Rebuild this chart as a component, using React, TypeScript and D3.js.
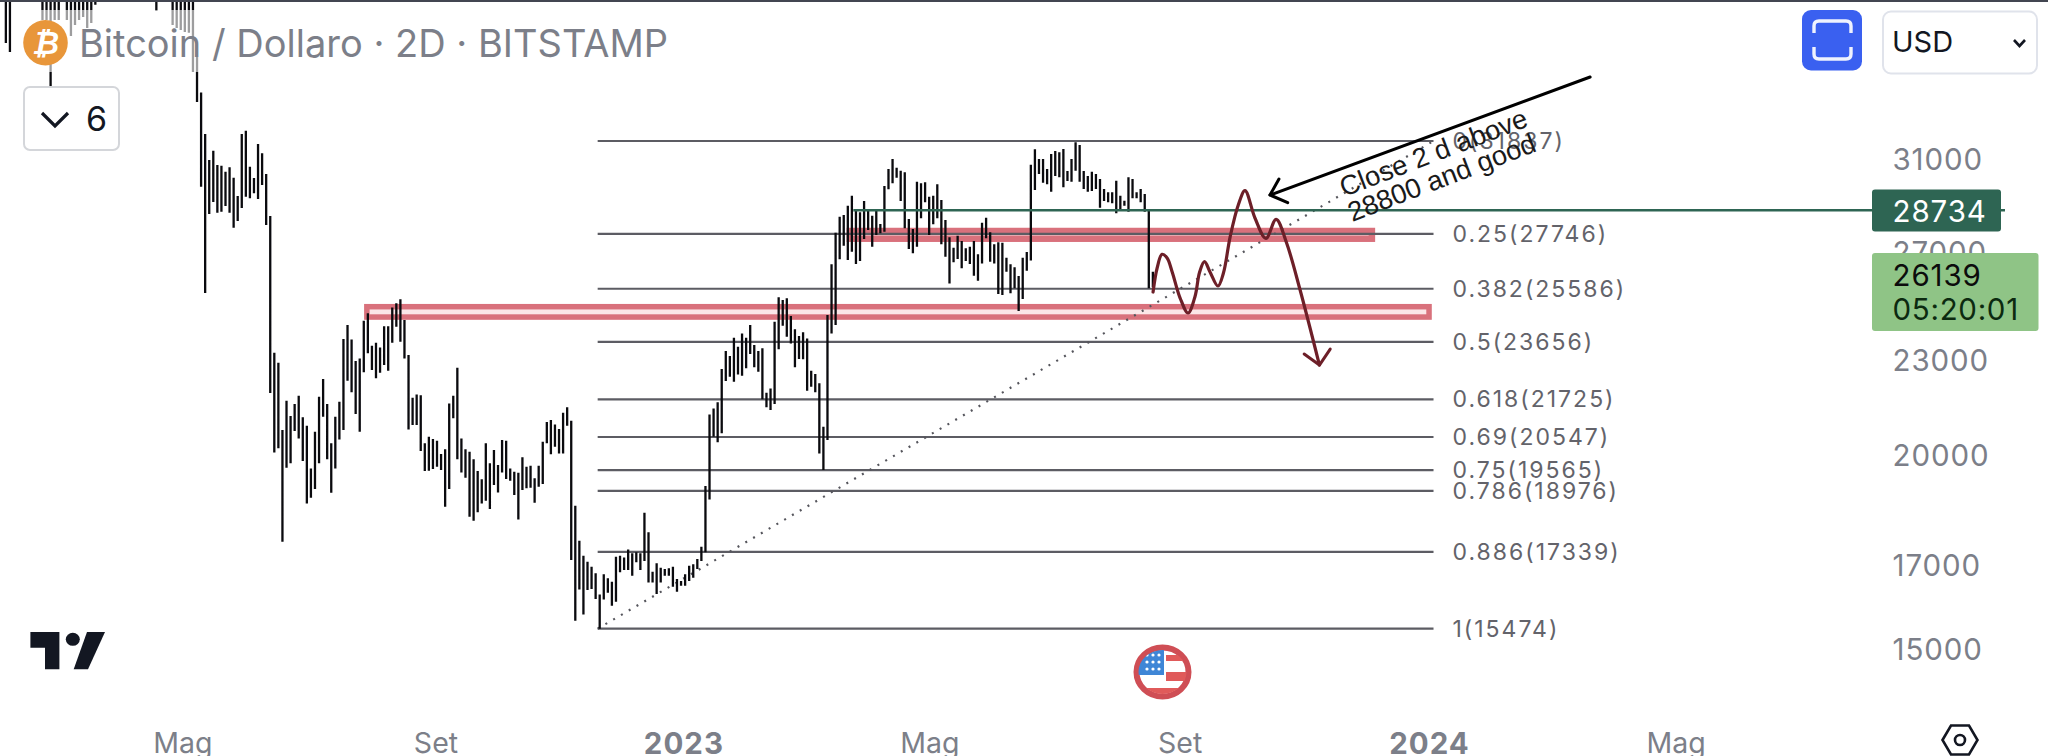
import React from "react";
import * as d3 from "d3";

const W = 2048, H = 756;
const DAY = 86400000;
const baseDate = Date.UTC(2022, 10, 21);
const firstBarOffset = -146;

const barHigh = [
41000,41000,41000,41000,41000,41000,41000,41000,41000,41000,
41000,41000,41000,41000,41000,41000,41000,41000,41000,41000,
41000,41000,41000,41000,41000,41000,41000,41000,41000,41000,
41000,41000,41000,41000,41000,41000,41000,41000,41000,41000,
41000,41000,41000,41000,41000,41000,
41000,36050,34200,32170,30950,31380,30725,30695,30420,30620,
30155,29350,32170,32320,30650,30140,31700,31260,30320,28490,
23275,22935,20760,21680,21195,21575,21840,21155,20895,19615,
20710,21805,22385,21575,20355,21175,21650,23750,24250,23740,
22990,23080,24405,24675,23520,23620,23460,24210,24210,24890,
25040,25190,24430,23195,21775,21885,21855,20355,20555,20485,
20435,20035,20175,21595,21840,22765,20505,20175,20105,19880,
19540,19300,20355,19765,20155,19715,20455,20435,19615,19520,
19490,19940,19665,19695,19330,19695,20405,21010,21070,20935,
20790,21300,21470,21050,18560,17625,17235,17085,16960,16795,
16280,16770,16670,16585,17210,17235,17195,17400,17300,17325,
17300,18370,17845,16835,17045,16935,16900,16920,16960,16655,
16605,16770,16985,17025,17155,17470,19110,21245,21435,21630,
22720,23335,23160,23800,23480,23950,23800,24250,23545,23335,
23430,21940,22080,24370,25265,25165,25225,24575,24095,23860,
23990,23775,22665,22555,22245,20860,24610,26530,27795,28460,
28535,28930,29365,28705,28650,29135,28775,28505,28745,28160,
29785,30545,31000,30600,30470,30395,28365,27950,29975,29905,
29950,29320,29365,29860,29175,28325,27610,27185,27675,27460,
27165,27230,27460,26925,28215,28420,27815,27325,27405,27390,
26790,26530,26410,26075,26790,27015,30735,31450,31000,31000,
30545,31230,31370,31310,31465,30455,31000,31775,31650,30455,
30230,30425,30320,30095,29655,29510,29510,30020,29365,29145,
30170,30095,29510,29655,29435,28705,26240,
];

const barLow = [
36810,36320,39500,39500,39500,39500,39500,39500,39500,38080,
38080,34440,38080,38080,39500,38080,37190,37800,38080,38250,
37630,37910,38940,39500,39500,39500,39500,39500,39500,39500,
39500,39500,39500,39500,39500,39500,39500,38590,39500,39500,
39500,37800,37630,37520,37410,37360,
35260,33730,29755,25425,28580,29090,28635,28675,28920,28635,
28005,28285,28835,29320,29250,29465,29220,29830,28115,21930,
20085,20205,17600,19635,19765,20730,20505,19830,18625,18780,
19025,19765,21175,19880,18920,19615,20475,20760,22330,21950,
21255,20710,22610,23255,22685,22410,22595,22855,22665,23620,
24190,23655,23080,20780,20915,20915,20125,19540,19550,19595,
19665,19570,18535,19025,21125,19880,19500,19345,18260,18155,
18380,18625,18700,18470,19140,18930,19500,19310,19260,18855,
18190,18995,19045,19060,18645,19090,19165,20355,20030,20255,
20055,20055,20895,17130,15655,16400,15805,16385,16410,16170,
15474,16160,16320,16010,16105,16820,16875,16875,16735,17070,
16875,17105,16570,16570,16290,16570,16735,16735,16465,16345,
16490,16490,16605,16685,16900,17105,17325,18735,20555,20385,
20660,22320,22465,22295,22540,22495,22745,23230,22780,22630,
21725,21470,21385,21575,23395,24225,23830,23600,22780,23060,
23050,22005,22135,21950,20055,19570,20455,23950,24250,26725,
27270,26695,27030,26540,26660,27540,27910,27230,27705,27775,
27840,29640,29905,30155,29135,27980,27135,26965,27230,28395,
29075,27705,28145,28395,27325,26830,25790,26605,26735,26370,
26660,26540,26085,25890,26565,27570,26630,26565,25385,25350,
26240,25415,25605,24755,25200,26280,26675,29610,30320,29935,
29860,29535,30230,30170,29730,30010,29975,30470,29975,29655,
29535,29565,29655,28845,29135,29075,29035,28605,28775,28930,
28675,29250,29250,29075,28675,25605,25650,
];

const fibRatios = ["0", "0.25", "0.382", "0.5", "0.618", "0.69", "0.75", "0.786", "0.886", "1"];
const fibPrices = [31837, 27746, 25586, 23656, 21725, 20547, 19565, 18976, 17339, 15474];
const fibStartDay = -1;
const fibEndDay = 410;

const priceTicks = [31000, 27000, 23000, 20000, 17000, 15000];
const timeLabels = ["Mag", "Set", "2023", "Mag", "Set", "2024", "Mag"];
const timeLabelDays = [-205, -80.5, 41.4, 162.4, 285.4, 408, 529.3];
const timeLabelBold = [false, false, true, false, false, true, false];

const lastPrice = 28734;
const lastPriceStartDay = 124.7;
const lastPriceEndDay = 691;

const zoneLowDays = [-114.5, 407.8];
const zoneLowPrices = [24916, 24537];
const zoneHighDays = [123, 379.7];
const zoneHighPrices = [27868, 27552];

const forecastDays = [272.1, 274.1, 276.5, 279, 281.5, 285.4, 289.3, 292.7, 295, 297.4, 300.1, 304, 306.7, 310, 314, 317.3, 322.2, 327.6, 332.6, 337.8, 344.4, 353.9];
const forecastPrices = [25463, 26383, 26924, 26776, 26230, 25237, 24684, 25286, 26230, 26630, 26230, 25690, 26188, 27630, 28960, 29580, 28410, 27565, 28355, 27365, 25538, 22855];
const forecastHeadDays = [346.4, 353.9, 359.2];
const forecastHeadPrices = [23232, 22855, 23403];

const noteArrowDays = [487, 329.6];
const noteArrowPrices = [34999, 29393];
const noteHeadDays = [334, 329.6, 338.3];
const noteHeadPrices = [30096, 29393, 29060];

const noteLines = ["Close 2 d above", "28800 and good"];
const noteDays = [366, 370];
const notePrices = [29305, 28240];

const FONT = "Inter, 'Liberation Sans', sans-serif";
const GREY = "#7c7f89";

const x = d3.scaleUtc().domain([new Date(baseDate), new Date(baseDate + 270 * DAY)]).range([599.7, 1148.8]);
const y = d3.scaleLog().domain([15474, 31837]).range([628.7, 141]);
const xd = (d: number) => x(new Date(baseDate + d * DAY));

const pathOf = (days: number[], prices: number[], curve: d3.CurveFactory = d3.curveLinear) =>
  d3.line<number>().x((_, i) => xd(days[i])).y((_, i) => y(prices[i])).curve(curve)(days) as string;

const rectFrom = (days: number[], prices: number[]) => ({
  x: xd(days[0]), y: y(prices[0]), width: xd(days[1]) - xd(days[0]), height: y(prices[1]) - y(prices[0]),
});

export default function App() {
  const zLow = rectFrom(zoneLowDays, zoneLowPrices);
  const zHigh = rectFrom(zoneHighDays, zoneHighPrices);
  const barPath = d3.path();
  barHigh.forEach((h, i) => {
    const bx = xd((i + firstBarOffset) * 2);
    barPath.moveTo(bx, y(h));
    barPath.lineTo(bx, y(barLow[i]));
  });
  return (
    <svg width={W} height={H} viewBox={`0 0 ${W} ${H}`} style={{ position: "fixed", left: 0, top: 0, background: "#fff" }} fontFamily={FONT}>
      <style>{"body{margin:0}"}</style>
      <rect width={W} height={H} fill="#fff" />

      {/* red zones */}
      <rect {...zLow} fill="#fbe6e8" stroke="#d9717c" strokeWidth={5.5} />
      <rect {...zHigh} fill="#fbe6e8" stroke="#d9717c" strokeWidth={6.5} />

      {/* fib lines */}
      {fibPrices.map((p, i) => (
        <line key={i} x1={xd(fibStartDay)} x2={xd(fibEndDay)} y1={y(p)} y2={y(p)} stroke="#5c5c63" strokeWidth={2.2} />
      ))}
      <path d={pathOf([fibStartDay, fibEndDay], [fibPrices[9], fibPrices[0]])} fill="none" stroke="#55555c" strokeWidth={2.2} strokeDasharray="2 7" />

      {/* bars */}
      <path d={barPath.toString()} fill="none" stroke="#0a0a0e" strokeWidth={2.3} />

      {/* last price line */}
      <line x1={xd(lastPriceStartDay)} x2={xd(lastPriceEndDay)} y1={y(lastPrice)} y2={y(lastPrice)} stroke="#2e6553" strokeWidth={2.4} />

      {/* fib labels */}
      {fibPrices.map((p, i) => (
        <text key={i} x={1452.5} y={y(p)} dy="0.35em" fontSize={23} letterSpacing={2} fill="#63636a">
          {`${fibRatios[i]}(${p})`}
        </text>
      ))}

      {/* black note */}
      <path d={pathOf(noteArrowDays, noteArrowPrices)} fill="none" stroke="#000" strokeWidth={3} strokeLinecap="round" />
      <path d={pathOf(noteHeadDays, noteHeadPrices)} fill="none" stroke="#000" strokeWidth={3} strokeLinecap="round" strokeLinejoin="round" />
      {noteLines.map((t, i) => (
        <text key={i} transform={`translate(${xd(noteDays[i])},${y(notePrices[i])}) rotate(-21)`} fontSize={27.5} fill="#1a1a1a" fontFamily="'Liberation Sans', sans-serif">
          {t}
        </text>
      ))}

      {/* forecast */}
      <path d={pathOf(forecastDays, forecastPrices, d3.curveCatmullRom)} fill="none" stroke="#6d1f28" strokeWidth={3.2} strokeLinecap="round" />
      <path d={pathOf(forecastHeadDays, forecastHeadPrices)} fill="none" stroke="#6d1f28" strokeWidth={3} strokeLinecap="round" strokeLinejoin="round" />

      {/* legend */}
      <rect x={20} y={10} width={660} height={62} fill="#fff" opacity={0.6} />
      <ellipse cx={45.5} cy={42.7} rx={22.3} ry={22.8} fill="#e8963a" />
      <text x={45.5} y={43} dy="0.36em" textAnchor="middle" fontSize={31} fontWeight={700} fontStyle="italic" fill="#fff" fontFamily="'DejaVu Sans', sans-serif">₿</text>
      <text x={79} y={43} dy="0.36em" fontSize={38} fill={GREY}>Bitcoin / Dollaro · 2D · BITSTAMP</text>
      <rect x={24} y={87} width={95} height={63} rx={6} fill="#fff" stroke="#d4d6da" strokeWidth={2} />
      <path d="M42 113 L55 126 L68 113" fill="none" stroke="#131722" strokeWidth={3.2} />
      <text x={86} y={119} dy="0.36em" fontSize={34} fill="#131722">6</text>

      {/* top controls */}
      <line x1={0} x2={W} y1={1} y2={1} stroke="#434651" strokeWidth={2} />
      <rect x={1802} y={10} width={60} height={60.5} rx={9} fill="#3a60f0" />
      <path d="M1814 33 V26 Q1814 21 1819 21 H1846 Q1851 21 1851 26 V33 M1814 47 V54 Q1814 59 1819 59 H1846 Q1851 59 1851 54 V47" fill="none" stroke="#fff" strokeWidth={3.4} opacity={0.92} />
      <rect x={1883} y={11.5} width={154} height={62} rx={8} fill="#fff" stroke="#e0e3eb" strokeWidth={2} />
      <text x={1892} y={42} dy="0.36em" fontSize={29} fill="#131722">USD</text>
      <path d="M2014 40 L2019.5 46 L2025 40" fill="none" stroke="#131722" strokeWidth={2.6} />

      {/* price axis */}
      {priceTicks.map((p) => (
        <text key={p} x={1892.5} y={y(p)} dy="0.36em" fontSize={29.5} letterSpacing={0.9} fill={GREY}>{p}</text>
      ))}
      <rect x={1872} y={189.5} width={129} height={42} rx={3} fill="#2e6553" />
      <text x={1892.5} y={211} dy="0.36em" fontSize={29.5} letterSpacing={0.9} fill="#fff">{lastPrice}</text>
      <rect x={1872} y={253} width={166.5} height={78} rx={3} fill="#8fc486" />
      <text x={1892.5} y={275} dy="0.36em" fontSize={29.5} letterSpacing={0.9} fill="#0c0c0c">26139</text>
      <text x={1892.5} y={309} dy="0.36em" fontSize={29.5} letterSpacing={0.7} fill="#0c2a10">05:20:01</text>

      {/* time axis */}
      {timeLabels.map((t, i) => (
        <text key={i} x={xd(timeLabelDays[i])} y={743} dy="0.36em" textAnchor="middle" fontSize={timeLabelBold[i] ? 29.5 : 28.5} letterSpacing={timeLabelBold[i] ? 1 : 0} fontWeight={timeLabelBold[i] ? 700 : 400} fill={GREY}>{t}</text>
      ))}

      {/* logo */}
      <g fill="#131722">
        <path d="M30.4 632 H59.4 V669.3 H45 V647.7 H30.4 Z" />
        <ellipse cx={72.8} cy={639.3} rx={7} ry={6.5} />
        <path d="M87 632 H105 L88 669.3 H73.7 Z" />
      </g>

      {/* flag */}
      <g>
        <clipPath id="flagClip"><ellipse cx={1162.5} cy={672} rx={24} ry={22} /></clipPath>
        <ellipse cx={1162.5} cy={672} rx={26} ry={24.5} fill="#fff" stroke="#cf4e55" strokeWidth={6} />
        <g clipPath="url(#flagClip)">
          <rect x={1166} y={655} width={26} height={6} fill="#e05a5a" />
          <rect x={1166} y={672} width={26} height={9} fill="#e05a5a" />
          <rect x={1136} y={688} width={54} height={10} fill="#e05a5a" />
          <rect x={1136} y={648} width={28} height={27} fill="#3f86d6" />
          <g fill="#fff">
            {[655, 662, 669].map((cy) => [1147, 1153, 1159].map((cx) => <circle key={`${cx}-${cy}`} cx={cx} cy={cy} r={1.6} />))}
          </g>
        </g>
      </g>

      {/* settings hexagon */}
      <path d="M1942.5 740 L1951 725.5 H1969 L1977.5 740 L1969 754.5 H1951 Z" fill="none" stroke="#131722" strokeWidth={2.6} />
      <circle cx={1960} cy={740} r={5} fill="none" stroke="#131722" strokeWidth={2.6} />
    </svg>
  );
}
